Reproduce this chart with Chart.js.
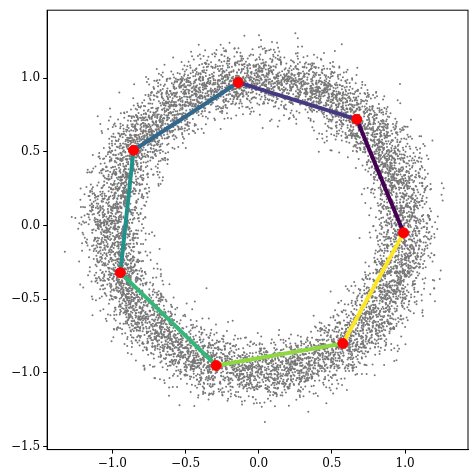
<!DOCTYPE html><html><head><style>html,body{margin:0;background:#fff}#w{width:474px;height:474px}</style>
<script src="https://cdn.jsdelivr.net/npm/chart.js@4"></script></head><body><div id="w"><canvas id="c"></canvas></div><script>
// Polygon vertices, in drawing order
const vertexX=[0.99,0.67,-0.14,-0.855,-0.945,-0.29,0.575,0.99];
const vertexY=[-0.05,0.72,0.97,0.51,-0.32,-0.95,-0.80,-0.05];
const segmentColors=['#440154','#443983','#31688e','#21918c','#35b779','#90d743','#fde725'];
const xTicks=[-1.0,-0.5,0.0,0.5,1.0];
const yTicks=[-1.5,-1.0,-0.5,0.0,0.5,1.0];
// Background noisy ring: individual points cannot be read; approximated by a deterministic fill of the annulus
const ringRadius=1.0, ringSpread=0.1, ringCount=9000;
let s=12345;function rnd(){s=(s*16807)%2147483647;return s/2147483647;}
const cloud=[];
for(let i=0;i<ringCount;i++){const a=rnd()*2*Math.PI;const g=Math.sqrt(-2*Math.log(rnd()+1e-9))*Math.cos(2*Math.PI*rnd());const r=ringRadius+ringSpread*g;cloud.push({x:r*Math.cos(a),y:r*Math.sin(a)});}
const poly=vertexX.map((x,i)=>({x,y:vertexY[i]}));
const font={family:'"DejaVu Serif","Liberation Serif",serif',size:12};
const frame={id:'frame',afterDraw(ch){const a=ch.chartArea,c=ch.ctx;c.save();c.strokeStyle='#000';c.lineWidth=1;c.strokeRect(a.left,a.top,a.right-a.left,a.bottom-a.top);c.restore();}};
const fmt=v=>v.toFixed(1).replace('-','−');
new Chart(document.getElementById('c'),{type:'scatter',data:{datasets:[
{data:cloud,order:3,pointRadius:1,pointBackgroundColor:'#777',pointBorderWidth:0,showLine:false},
{data:poly,order:2,showLine:true,borderWidth:4,pointRadius:0,segment:{borderColor:c=>segmentColors[c.p0DataIndex]}},
{data:poly.slice(0,7),order:1,showLine:false,pointRadius:5,pointBackgroundColor:'#ff0000',pointBorderColor:'#ff0000'}
]},plugins:[frame],options:{animation:false,maintainAspectRatio:false,responsive:true,layout:{padding:{top:0,right:5,bottom:0,left:8}},
plugins:{legend:{display:false},tooltip:{enabled:false}},
scales:{x:{min:-1.445,max:1.43,grid:{display:true,drawOnChartArea:false,color:'#000',tickLength:4},border:{color:'#000'},afterBuildTicks:a=>{a.ticks=xTicks.map(v=>({value:v}))},ticks:{color:'#000',font,callback:fmt}},
y:{min:-1.52,max:1.46,grid:{display:true,drawOnChartArea:false,color:'#000',tickLength:4},border:{color:'#000'},afterBuildTicks:a=>{a.ticks=yTicks.map(v=>({value:v}))},ticks:{color:'#000',font,callback:fmt}}}}});
</script></body></html>
